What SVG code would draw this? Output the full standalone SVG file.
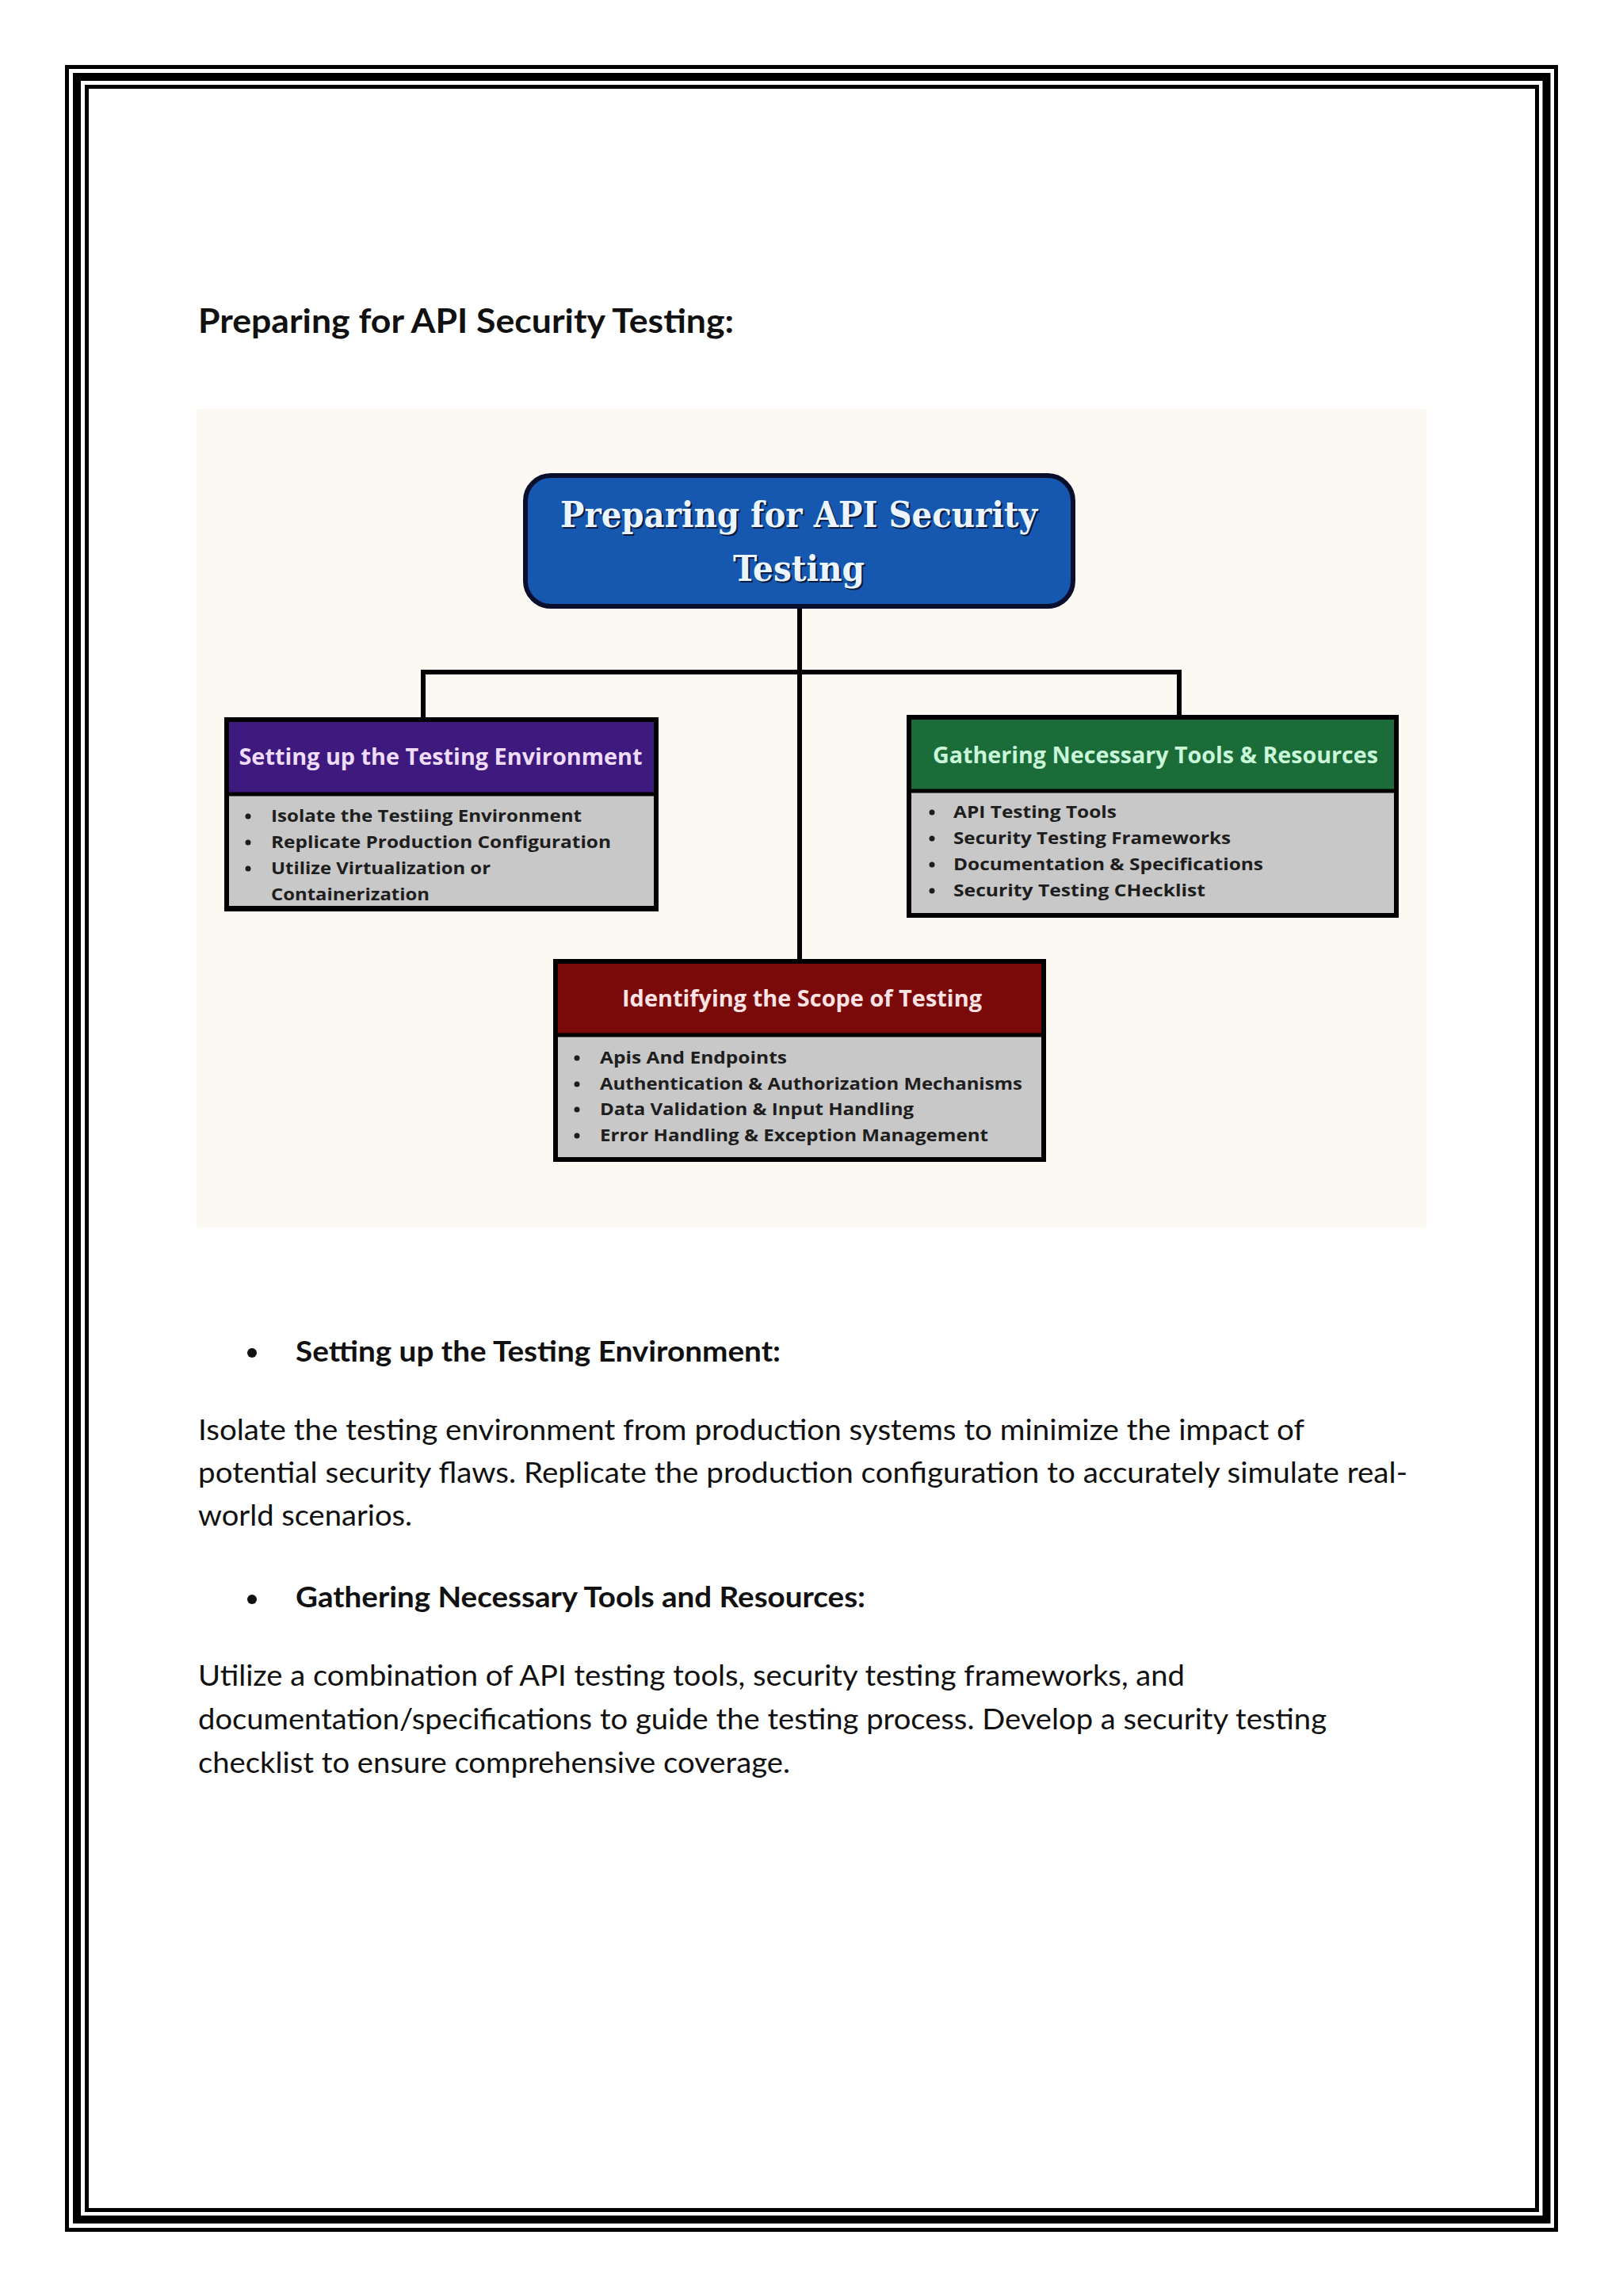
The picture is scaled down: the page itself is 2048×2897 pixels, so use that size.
<svg xmlns="http://www.w3.org/2000/svg" width="2048" height="2897" viewBox="0 0 2048 2897">
<style>
.frame{fill:none;stroke:#000}
.title{font-family:Lato,"Open Sans","Liberation Sans",sans-serif;font-weight:bold;font-size:42px;fill:#111}
.head{font-family:Lato,"Open Sans","Liberation Sans",sans-serif;font-weight:bold;font-size:37px;fill:#111}
.body{font-family:Lato,"Open Sans","Liberation Sans",sans-serif;font-size:36px;fill:#111}
.hdr{font-family:"Open Sans","Noto Sans","Liberation Sans",sans-serif;font-weight:bold;font-size:29px;text-anchor:middle}
.itm{font-family:"Open Sans","Noto Sans","Liberation Sans",sans-serif;font-weight:bold;font-size:22px;fill:#1e1e1e}
.box{stroke:#000;stroke-width:6}
.div{stroke:#000;stroke-width:5}
.conn{fill:none;stroke:#000;stroke-width:6}
.root{font-family:"DejaVu Serif Condensed","DejaVu Serif","Liberation Serif",serif;font-weight:bold;font-size:45px;text-anchor:middle}
</style>
<rect width="2048" height="2897" fill="#ffffff"/>
<g id="page-border">
<rect class="frame" x="84.5" y="84.5" width="1879" height="2729" stroke-width="5"/>
<rect class="frame" x="97" y="97" width="1854.5" height="2703.5" stroke-width="10"/>
<rect class="frame" x="109.5" y="109.5" width="1830" height="2679" stroke-width="5"/>
</g>
<text class="title" x="250" y="420" textLength="676" lengthAdjust="spacingAndGlyphs">Preparing for API Security Testing:</text>
<rect x="248" y="516" width="1552" height="1033" fill="#fcf8f2"/>
<g id="connectors">
<path class="conn" d="M1009 765 V1213"/>
<path class="conn" d="M534 908 V848 H1488 V905"/>
</g>
<g id="root">
<rect x="663" y="600" width="691" height="165" rx="32" fill="#1657b0" stroke="#0a0f2e" stroke-width="6"/>
<text class="root" x="1010" y="667" fill="#0a1a3a" textLength="602" lengthAdjust="spacingAndGlyphs">Preparing for API Security</text>
<text class="root" x="1010" y="735" fill="#0a1a3a" textLength="166" lengthAdjust="spacingAndGlyphs">Testing</text>
<text class="root" x="1008" y="665" fill="#eaf5ff" textLength="602" lengthAdjust="spacingAndGlyphs">Preparing for API Security</text>
<text class="root" x="1008" y="733" fill="#eaf5ff" textLength="166" lengthAdjust="spacingAndGlyphs">Testing</text>
</g>
<g id="setup-env">
<rect class="box" x="286" y="908" width="542" height="239" fill="#c8c8c8"/>
<rect x="289" y="911" width="536" height="91" fill="#3e1a7e"/>
<line class="div" x1="286" y1="1002" x2="828" y2="1002"/>
<text class="hdr" x="556" y="965" fill="#eedcf8" textLength="509" lengthAdjust="spacingAndGlyphs">Setting up the Testing Environment</text>
<circle cx="313" cy="1030" r="3.5" fill="#1e1e1e"/>
<circle cx="313" cy="1063" r="3.5" fill="#1e1e1e"/>
<circle cx="313" cy="1096" r="3.5" fill="#1e1e1e"/>
<text class="itm" x="342" y="1037" textLength="392" lengthAdjust="spacingAndGlyphs">Isolate the Testiing Environment</text>
<text class="itm" x="342" y="1070" textLength="429" lengthAdjust="spacingAndGlyphs">Replicate Production Configuration</text>
<text class="itm" x="342" y="1103" textLength="277" lengthAdjust="spacingAndGlyphs">Utilize Virtualization or</text>
<text class="itm" x="342" y="1136" textLength="200" lengthAdjust="spacingAndGlyphs">Containerization</text>
<line x1="286" y1="1146" x2="828" y2="1146" stroke="#000" stroke-width="6"/>
</g>
<g id="gather-tools">
<rect class="box" x="1147" y="905" width="615" height="250" fill="#c8c8c8"/>
<rect x="1150" y="908" width="609" height="90" fill="#1b6c38"/>
<line class="div" x1="1147" y1="998" x2="1762" y2="998"/>
<text class="hdr" x="1458" y="963" fill="#c9f5d9" textLength="562" lengthAdjust="spacingAndGlyphs">Gathering Necessary Tools &amp; Resources</text>
<circle cx="1176" cy="1025" r="3.5" fill="#1e1e1e"/>
<circle cx="1176" cy="1058" r="3.5" fill="#1e1e1e"/>
<circle cx="1176" cy="1091" r="3.5" fill="#1e1e1e"/>
<circle cx="1176" cy="1124" r="3.5" fill="#1e1e1e"/>
<text class="itm" x="1203" y="1032" textLength="206" lengthAdjust="spacingAndGlyphs">API Testing Tools</text>
<text class="itm" x="1203" y="1065" textLength="350" lengthAdjust="spacingAndGlyphs">Security Testing Frameworks</text>
<text class="itm" x="1203" y="1098" textLength="391" lengthAdjust="spacingAndGlyphs">Documentation &amp; Specifications</text>
<text class="itm" x="1203" y="1131" textLength="318" lengthAdjust="spacingAndGlyphs">Security Testing CHecklist</text>
</g>
<g id="scope">
<rect class="box" x="701" y="1213" width="616" height="250" fill="#c8c8c8"/>
<rect x="704" y="1216" width="610" height="90" fill="#7a0909"/>
<line class="div" x1="701" y1="1306" x2="1317" y2="1306"/>
<text class="hdr" x="1012" y="1270" fill="#fbe3e3" textLength="454" lengthAdjust="spacingAndGlyphs">Identifying the Scope of Testing</text>
<circle cx="728" cy="1335" r="3.5" fill="#1e1e1e"/>
<circle cx="728" cy="1368" r="3.5" fill="#1e1e1e"/>
<circle cx="728" cy="1400" r="3.5" fill="#1e1e1e"/>
<circle cx="728" cy="1433" r="3.5" fill="#1e1e1e"/>
<text class="itm" x="757" y="1342" textLength="236" lengthAdjust="spacingAndGlyphs">Apis And Endpoints</text>
<text class="itm" x="757" y="1375" textLength="533" lengthAdjust="spacingAndGlyphs">Authentication &amp; Authorization Mechanisms</text>
<text class="itm" x="757" y="1407" textLength="396" lengthAdjust="spacingAndGlyphs">Data Validation &amp; Input Handling</text>
<text class="itm" x="757" y="1440" textLength="490" lengthAdjust="spacingAndGlyphs">Error Handling &amp; Exception Management</text>
</g>
<circle cx="318" cy="1707" r="6" fill="#111"/>
<text class="head" x="373" y="1718" textLength="612" lengthAdjust="spacingAndGlyphs">Setting up the Testing Environment:</text>
<text class="body" x="250" y="1817" textLength="1396" lengthAdjust="spacingAndGlyphs">Isolate the testing environment from production systems to minimize the impact of</text>
<text class="body" x="250" y="1871" textLength="1526" lengthAdjust="spacingAndGlyphs">potential security flaws. Replicate the production configuration to accurately simulate real-</text>
<text class="body" x="250" y="1925" textLength="270" lengthAdjust="spacingAndGlyphs">world scenarios.</text>
<circle cx="318" cy="2018" r="6" fill="#111"/>
<text class="head" x="373" y="2028" textLength="719" lengthAdjust="spacingAndGlyphs">Gathering Necessary Tools and Resources:</text>
<text class="body" x="250" y="2127" textLength="1245" lengthAdjust="spacingAndGlyphs">Utilize a combination of API testing tools, security testing frameworks, and</text>
<text class="body" x="250" y="2182" textLength="1424" lengthAdjust="spacingAndGlyphs">documentation/specifications to guide the testing process. Develop a security testing</text>
<text class="body" x="250" y="2237" textLength="747" lengthAdjust="spacingAndGlyphs">checklist to ensure comprehensive coverage.</text>
</svg>
